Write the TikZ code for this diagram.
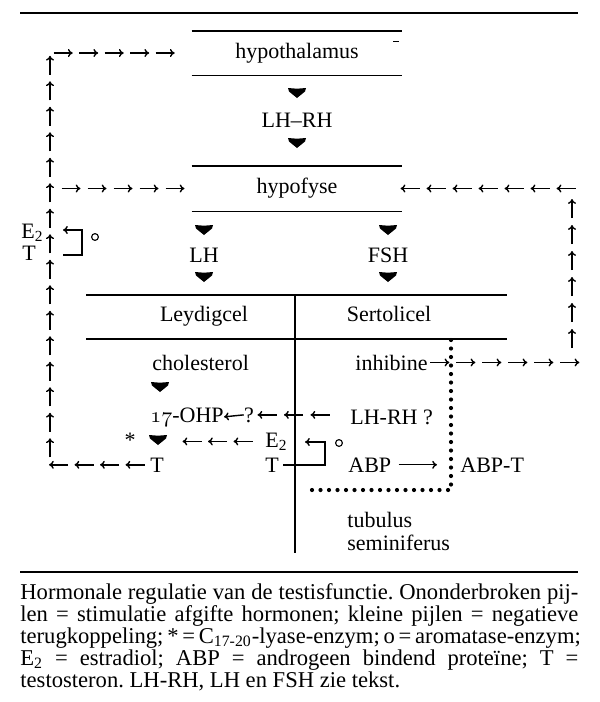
\documentclass[tikz,border=0pt]{standalone}
\usepackage{fontspec}
\setmainfont{Liberation Serif}
\usetikzlibrary{decorations.markings,arrows.meta}
\frenchspacing
\tikzset{
  lbl/.style={font=\fontsize{11pt}{13pt}\selectfont, inner sep=0pt},
  toprule/.style={line width=1.2pt},
  bandline/.style={line width=0.9pt},
  sarr/.style={line width=0.7pt,-{Computer Modern Rightarrow[length=2.4pt,width=4pt]}},
  arrowchain/.style n args={3}{decorate, decoration={markings,
      mark=between positions #1 and #2 step #3 with {\draw[sarr] (-9.5,0) -- (9.5,0);}}},
  dotline/.style={line width=2.1pt, line cap=round, dash pattern=on 0pt off 4.25pt},
  band/.style={minimum width=105pt, minimum height=22pt, inner sep=0pt, font=\fontsize{11pt}{13pt}\selectfont},
  arom/.style={circle, draw, line width=0.55pt, inner sep=0pt, minimum size=3.4pt},
  fatarrow/.pic={\fill (-9,-5) -- (0,-4.3) -- (9,-5) -- (8,-1.5) -- (0,5) -- (-8,-1.5) -- cycle;},
  capt/.style={font=\fontsize{11.3pt}{11pt}\selectfont, inner sep=0pt, anchor=base west}
}
\begin{document}
\begin{tikzpicture}[x=0.5pt,y=-0.5pt]
\useasboundingbox (0,0) rectangle (600,702);
\fill[white] (0,0) rectangle (600,702);
% rules
\draw[toprule] (20,13) -- (578,13);
\draw[toprule] (20,572) -- (578,572);
% hypothalamus band
\node[band] (hyp) at (297,53) {hypothalamus};
\draw[bandline] (hyp.north west) -- (hyp.north east) (hyp.south west) -- (hyp.south east);
\draw[line width=0.5pt] (393,41) -- (399,41);
\node[lbl, anchor=base] (lhrh) at (297,127) {LH–RH};
\node[band, minimum height=22.5pt] (hyf) at (297,188.5) {hypofyse};
\draw[bandline] (hyf.north west) -- (hyf.north east) (hyf.south west) -- (hyf.south east);
\coordinate (fa1) at (297,93);
\coordinate (fa2) at (297,143);
\pic at (fa1) {fatarrow};
\pic at (fa2) {fatarrow};
% LH / FSH
\node[lbl, anchor=base] (lh) at (204,262) {LH};
\node[lbl, anchor=base] (fsh) at (388,262) {FSH};
\coordinate (fa3) at (204,230);
\coordinate (fa4) at (388,230);
\coordinate (fa5) at (204,277);
\coordinate (fa6) at (388,277);
\pic at (fa3) {fatarrow};
\pic at (fa4) {fatarrow};
\pic at (fa5) {fatarrow};
\pic at (fa6) {fatarrow};
% cells band
\coordinate (cnw) at (86,295);
\coordinate (cne) at (507,295);
\coordinate (csw) at (86,339);
\coordinate (cse) at (507,339);
\draw[bandline] (cnw) -- (cne) (csw) -- (cse);
\draw[line width=0.8pt] (295,295) -- (295,553);
\node[lbl, anchor=base] (leyd) at (204,321) {Leydigcel};
\node[lbl, anchor=base] (sert) at (389,321) {Sertolicel};
% Leydig content
\node[lbl, anchor=base west] (chol) at (152,370) {cholesterol};
\coordinate (fa7) at (160,387);
\pic at (fa7) {fatarrow};
\node[lbl, anchor=base west] (ohp) at (150,422) {$\mathnormal{17}$-OHP};
\node[lbl, anchor=base] (q) at (249,422) {?};
\node[lbl] (ast) at (130,440) {*};
\coordinate (fa8) at (158,440);
\pic at (fa8) {fatarrow};
\node[lbl, anchor=base west] (e2m) at (265,447) {E\textsubscript{2}};
\node[lbl, anchor=base west] (tl) at (150,472) {T};
\node[lbl, anchor=base west] (tm) at (265,472) {T};
% Sertoli content
\node[lbl, anchor=base west] (inh) at (355,370) {inhibine};
\node[lbl, anchor=base west] (lhrh2) at (350,424) {LH-RH ?};
\node[lbl, anchor=base west] (abp) at (348,472) {ABP};
\node[lbl, anchor=base west] (abpt) at (460,472) {ABP-T};
\node[lbl, anchor=base west] (tub) at (347,527) {tubulus};
\node[lbl, anchor=base west] (sem) at (347,550) {seminiferus};
% left labels
\node[lbl, anchor=base west] (e2l) at (21,238) {E\textsubscript{2}};
\node[lbl, anchor=base west] (tleft) at (22,260) {T};
% feedback chains
\coordinate (cL) at (50,465);
\path[arrowchain={7.5pt}{315pt}{12.75pt}] (tl.west) -- (tl.west -| cL) -- (cL |- hyp.west) -- (hyp.west);
\path[arrowchain={10.5pt}{70pt}{13pt}] (cL |- hyf.west) -- (hyf.west);
\coordinate (cR) at (572,363);
\path[arrowchain={6pt}{245pt}{13pt}] (inh.east) -- (inh.east -| cR) -- (cR |- hyf.east) -- (hyf.east);
\path[arrowchain={15pt}{45pt}{13.25pt}] (q.east -| lhrh2.west) -- (q.east);
\draw[sarr] (q.west) -- (ohp.east);
\path[arrowchain={11pt}{40pt}{12.75pt}] (e2m.west) -- (e2m.west -| fa8);
% aromatase brackets
\coordinate (bl1) at (63,255);
\coordinate (bl2) at (82,230);
\coordinate (bl3) at (63,230);
\draw[sarr] (bl1) -| (bl2) -- (bl3);
\node[arom] (o1) at (95,237) {};
\coordinate (b2) at (325,442);
\coordinate (b2t) at (305,442);
\draw[sarr, shorten <=2pt] (tm.east) -| (b2) -- (b2t);
\node[arom] (o2) at (339,443) {};
% ABP arrow
\draw[sarr, shorten <=3.5pt, shorten >=11.5pt] (abp.east) -- (abpt.west);
% dotted tubulus boundary
\coordinate (d1) at (451,340);
\coordinate (d2) at (451,490);
\coordinate (d3) at (305,490);
\draw[dotline] (d1) -- (d2) -- (d3);
% caption
\node[capt] (cap1) at (20,599) {\makebox[279pt][s]{Hormonale regulatie van de testisfunctie. Ononderbroken pij-}};
\node[capt] (cap2) at (20,621) {\makebox[279pt][s]{len = stimulatie afgifte hormonen; kleine pijlen = negatieve}};
\node[capt] (cap3) at (20,643) {\makebox[279pt][s]{terugkoppeling; * = C\textsubscript{17-20}-lyase-enzym; o = aromatase-enzym;}};
\node[capt] (cap4) at (20,665) {\makebox[279pt][s]{E\textsubscript{2} = estradiol; ABP = androgeen bindend proteïne; T =}};
\node[capt] (cap5) at (20,687) {testosteron. LH-RH, LH en FSH zie tekst.};
\end{tikzpicture}
\end{document}
